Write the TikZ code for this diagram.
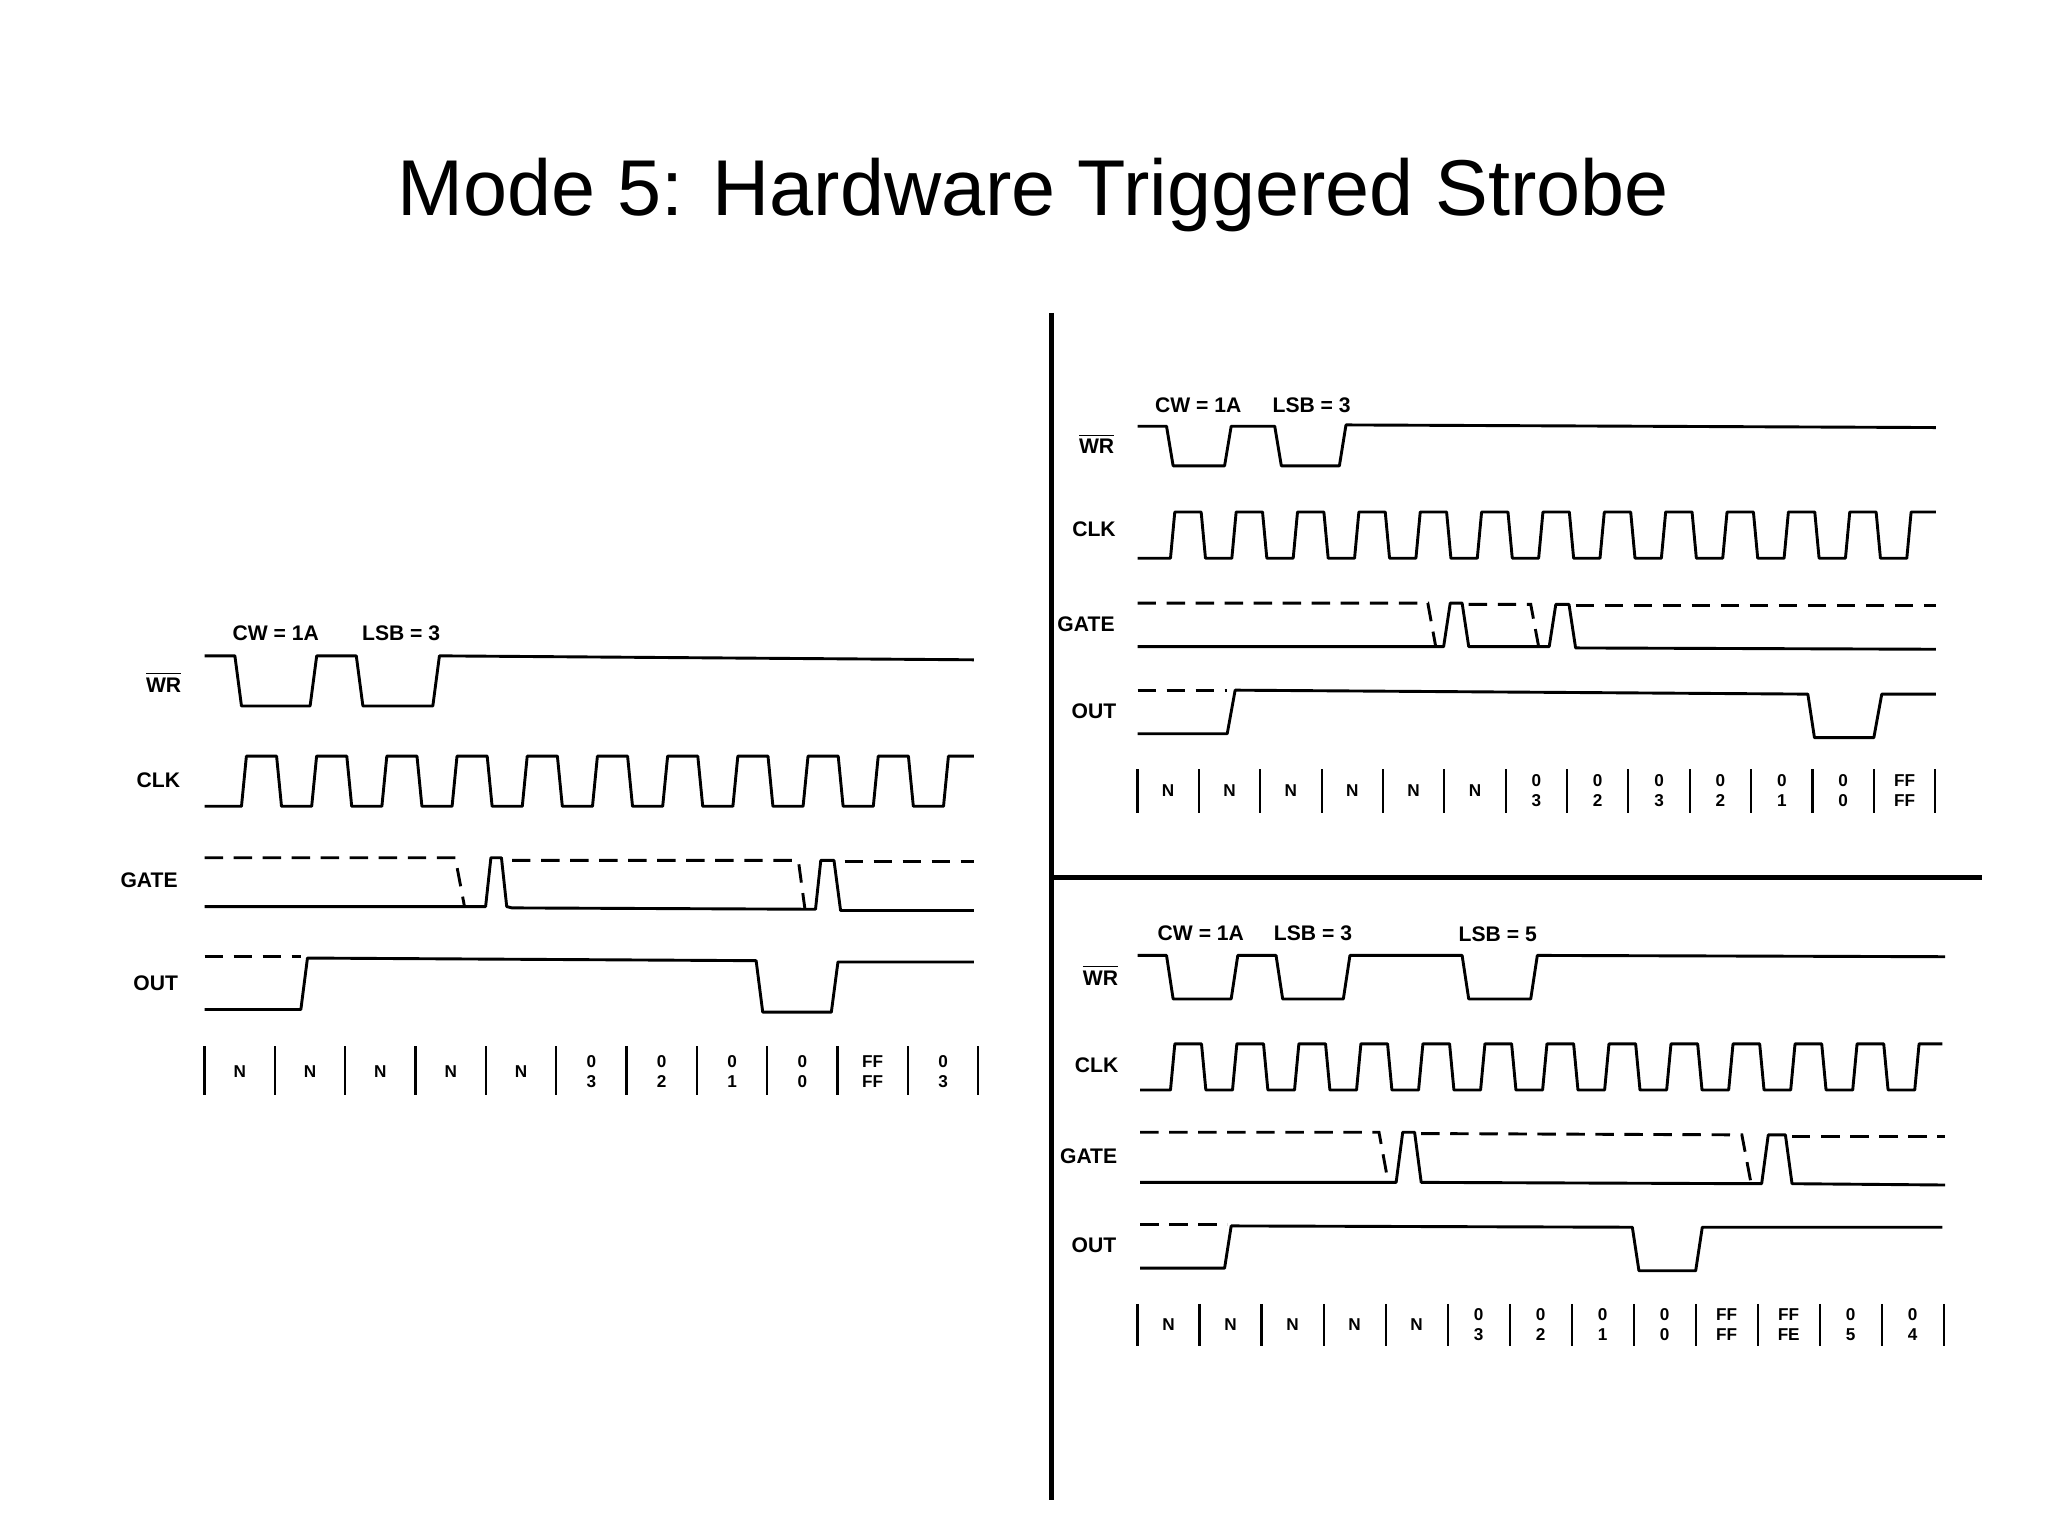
\documentclass[tikz,border=0pt]{standalone}
\usepackage{fontspec}
\setmainfont{Liberation Sans}
\newcommand{\clkwave}[7]{% x0, firstrise, period, npulses(last index), xend, hi, lo
  \draw[wave] (#1,#7) \foreach \k in {0,...,#4}{ -- ({#2+\k*#3},#7) -- ({#2+\k*#3+0.07*#3},#6) -- ({#2+\k*#3+0.5*#3},#6) -- ({#2+\k*#3+0.57*#3},#7)} -- ({#2+(#4+1)*#3},#7) -- ({#2+(#4+1)*#3+0.07*#3},#6) -- (#5,#6);}
\newcommand{\cellsep}[5]{% x0 period n y1 y2
  \foreach \k in {0,...,#3}{\draw[sep] ({#1+\k*#2},#4) -- ({#1+\k*#2},#5);}}
\begin{document}
\begin{tikzpicture}[x=0.5pt,y=-0.5pt,
  wave/.style={line width=1.1pt,line join=round},
  dwave/.style={line width=1.1pt,dash pattern=on 7pt off 4pt},
  sep/.style={line width=0.8pt},
  lab/.style={font=\fontsize{8}{9}\selectfont\bfseries,inner sep=0pt},
  cl/.style={font=\fontsize{6.5}{7.5}\selectfont\bfseries,inner sep=0pt,align=center}]
\useasboundingbox (0,0) rectangle (1552,1164);
\node[font=\fontsize{30}{34}\selectfont] (title) at (783,148) {Mode 5: Hardware Triggered Strobe};
\draw[line width=2pt] (797,237) -- (797,1137);
\draw[line width=2pt] (797,665) -- (1502,665);

% ===== LEFT =====
\node[lab] (lwr) at (124,517) {$\overline{\mbox{WR}}$};
\node[lab] (lclk) at (120,591) {CLK};
\node[lab] (lgate) at (113,667) {GATE};
\node[lab] (lout) at (118,745) {OUT};
\node[lab] (lcw) at (209,480) {CW = 1A};
\node[lab] (llsb) at (304,480) {LSB = 3};
\draw[wave] (155,497) -- (178,497) -- (183,535) -- (235,535) -- (240,497) -- (270,497) -- (275,535) -- (328,535) -- (333,497) -- (738,500);
\clkwave{155}{183}{53.2}{9}{738}{573}{611}
\draw[dwave] (155,650) -- (345,650) -- (352,687);
\draw[dwave] (388,652) -- (605,652) -- (610,689);
\draw[dwave] (640,653) -- (738,653);
\draw[wave] (155,687) -- (352,687) -- (368,687) -- (372,650) -- (380,650) -- (384,687) -- (388,688) -- (610,689) -- (618,689) -- (622,652) -- (632,652) -- (637,690) -- (738,690);
\draw[dwave] (155,725) -- (228,725);
\draw[wave] (155,765) -- (228,765) -- (233,726) -- (573,728) -- (578,767) -- (630,767) -- (635,729) -- (738,729);
\cellsep{155}{53.3}{11}{793}{830}
\foreach \t [count=\i from 0] in {N,N,N,N,N,0\\3,0\\2,0\\1,0\\0,FF\\FF,0\\3}
  \node[cl] at ({155+26.65+\i*53.3},812) {\t};

% ===== TOP RIGHT =====
\node[lab] (awr) at (831,336) {$\overline{\mbox{WR}}$};
\node[lab] (aclk) at (829,401) {CLK};
\node[lab] (agate) at (823,473) {GATE};
\node[lab] (aout) at (829,539) {OUT};
\node[lab] (acw) at (908,307) {CW = 1A};
\node[lab] (alsb) at (994,307) {LSB = 3};
\draw[wave] (862,323) -- (884,323) -- (889,353) -- (928,353) -- (933,323) -- (966,323) -- (971,353) -- (1015,353) -- (1020,322) -- (1467,324);
\clkwave{862}{887}{46.5}{11}{1467}{388}{423}
\draw[dwave] (862,457) -- (1082,457) -- (1088,490);
\draw[dwave] (1113,458) -- (1160,458) -- (1166,490);
\draw[dwave] (1194,459) -- (1467,459);
\draw[wave] (862,490) -- (1094,490) -- (1099,457) -- (1108,457) -- (1113,490) -- (1174,490) -- (1179,458) -- (1189,458) -- (1194,491) -- (1467,492);
\draw[dwave] (862,523) -- (930,523);
\draw[wave] (862,556) -- (930,556) -- (936,523) -- (1370,526) -- (1375,559) -- (1420,559) -- (1426,526) -- (1467,526);
\cellsep{862}{46.5}{13}{583}{616}
\foreach \t [count=\i from 0] in {N,N,N,N,N,N,0\\3,0\\2,0\\3,0\\2,0\\1,0\\0,FF\\FF}
  \node[cl] at ({862+23.25+\i*46.5},599) {\t};

% ===== BOTTOM RIGHT =====
\node[lab] (bwr) at (834,739) {$\overline{\mbox{WR}}$};
\node[lab] (bclk) at (831,807) {CLK};
\node[lab] (bgate) at (825,876) {GATE};
\node[lab] (bout) at (829,944) {OUT};
\node[lab] (bcw) at (910,707) {CW = 1A};
\node[lab] (blsb) at (995,707) {LSB = 3};
\node[lab] (blsb5) at (1135,708) {LSB = 5};
\draw[wave] (862,724) -- (884,724) -- (889,757) -- (933,757) -- (938,724) -- (967,724) -- (972,757) -- (1018,757) -- (1023,724) -- (1108,724) -- (1113,757) -- (1160,757) -- (1165,724) -- (1474,725);
\clkwave{864}{887}{47}{11}{1472}{791}{826}
\draw[dwave] (864,858) -- (1045,858) -- (1052,896);
\draw[dwave] (1077,859) -- (1320,860) -- (1327,897);
\draw[dwave] (1358,861) -- (1474,861);
\draw[wave] (864,896) -- (1052,896) -- (1058,896) -- (1063,858) -- (1072,858) -- (1077,896) -- (1327,897) -- (1335,897) -- (1340,860) -- (1353,860) -- (1358,897) -- (1474,898);
\draw[dwave] (864,928) -- (930,928);
\draw[wave] (864,961) -- (928,961) -- (933,929) -- (1237,930) -- (1242,963) -- (1285,963) -- (1290,930) -- (1472,930);
\cellsep{862}{47}{13}{988}{1020}
\foreach \t [count=\i from 0] in {N,N,N,N,N,0\\3,0\\2,0\\1,0\\0,FF\\FF,FF\\FE,0\\5,0\\4}
  \node[cl] at ({862+23.5+\i*47},1004) {\t};
\end{tikzpicture}
\end{document}
